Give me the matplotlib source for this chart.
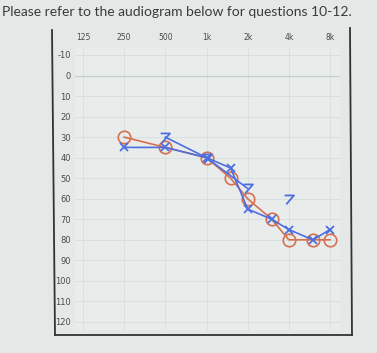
import numpy as np
import matplotlib.pyplot as plt
from matplotlib.path import Path

plt.rcParams['axes.unicode_minus'] = False

# audiogram values (dB HL)
freqs = [250, 500, 1000, 1500, 2000, 3000, 4000, 6000, 8000]
right_air = [30, 35, 40, 50, 60, 70, 80, 80, 80]
left_air = [35, 35, 40, 45, 65, 70, 75, 80, 75]
bone_freqs = [500, 1000, 2000, 3000, 4000]
left_bone = [30, 40, 55, np.nan, 60]

tick_freqs = [125, 250, 500, 1000, 2000, 4000, 8000]
tick_names = ['125', '250', '500', '1k', '2k', '4k', '8k']
db_ticks = list(range(-10, 130, 10))

W, H = 377, 353
fig = plt.figure(figsize=(W / 100, H / 100), dpi=100)
fig.patch.set_facecolor('#e4e9e8')

def px(x0, y0, x1, y1):
    return [x0 / W, 1 - y1 / H, (x1 - x0) / W, (y1 - y0) / H]

# outer frame of the chart
fig.add_artist(plt.Line2D([52 / W, 55 / W], [1 - 30 / H, 1 - 335 / H], color='#333333', lw=1.3))
fig.add_artist(plt.Line2D([55 / W, 352 / W], [1 - 335 / H, 1 - 335 / H], color='#333333', lw=1.3))
fig.add_artist(plt.Line2D([350 / W, 352 / W], [1 - 28 / H, 1 - 335 / H], color='#333333', lw=1.3))

fig.text(2 / W, 1 - 12 / H, 'Please refer to the audiogram below for questions 10-12.',
         fontsize=10, family='Lato', color='#3a3a3a', va='center', ha='left')

ax = fig.add_axes(px(75, 48, 340, 330))
ax.set_facecolor('#e8edec')
ax.set_xscale('log', base=2)
ppo = 41.2
ax.set_xlim(125 * 2 ** (-8 / ppo), 8000 * 2 ** (10 / ppo))
ax.set_ylim(123.9, -13.4)

ax.set_xticks(tick_freqs)
ax.set_xticklabels(tick_names)
ax.minorticks_off()
ax.xaxis.tick_top()
ax.set_yticks(db_ticks)
ax.tick_params(length=0, labelsize=5.5, labelcolor='#4a4a4a')
ax.tick_params(axis='y', pad=3, labelsize=6)
ax.tick_params(axis='x', pad=4)
ax.grid(True, color='#d8dede', lw=0.6)
for s in ax.spines.values():
    s.set_visible(False)
ax.axhline(0, color='#c8cece', lw=0.9)

red = '#d7704e'
blue = '#4d6ee0'

ax.plot(freqs, right_air, color=red, lw=1.2, marker='o', ms=9,
        mfc='none', mec=red, mew=1.2, zorder=3)
ax.plot(freqs, left_air, color=blue, lw=1.2, marker='x', ms=6,
        mec=blue, mew=1.3, zorder=4)

seven = Path([(-0.6, 0.5), (0.55, 0.5), (-0.4, -0.6)],
             [Path.MOVETO, Path.LINETO, Path.LINETO])
ax.plot(bone_freqs, left_bone, color=blue, lw=1.2, marker=seven, ms=7,
        mfc='none', mec=blue, mew=1.3, zorder=4)

fig.savefig('out.png', dpi=100, facecolor=fig.get_facecolor())
